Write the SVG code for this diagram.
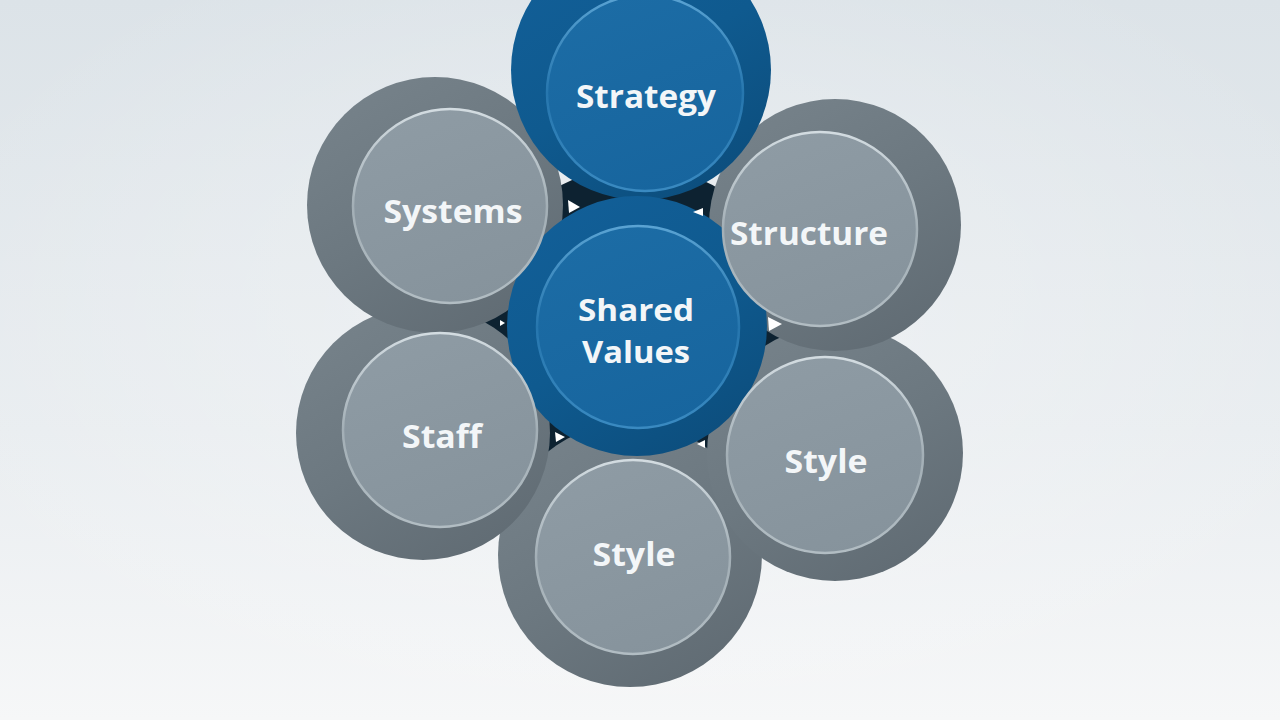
<svg xmlns="http://www.w3.org/2000/svg" width="1280" height="720" viewBox="0 0 1280 720">
  <defs>
    <linearGradient id="bg" x1="0" y1="0" x2="0" y2="1">
      <stop offset="0" stop-color="#dce3e8"/>
      <stop offset="0.6" stop-color="#e9edf0"/>
      <stop offset="1" stop-color="#f6f7f8"/>
    </linearGradient>
    <radialGradient id="bgGlow" cx="0.5" cy="0.45" r="0.6">
      <stop offset="0" stop-color="#ffffff" stop-opacity="0.35"/>
      <stop offset="1" stop-color="#ffffff" stop-opacity="0"/>
    </radialGradient>
    <linearGradient id="grayBack" x1="0.2" y1="0" x2="0.8" y2="1">
      <stop offset="0" stop-color="#76828a"/>
      <stop offset="0.5" stop-color="#6c7880"/>
      <stop offset="1" stop-color="#606b73"/>
    </linearGradient>
    <linearGradient id="grayFace" x1="0.3" y1="0" x2="0.7" y2="1">
      <stop offset="0" stop-color="#8e9ba4"/>
      <stop offset="1" stop-color="#86939c"/>
    </linearGradient>
    <linearGradient id="blueBack" x1="0.2" y1="0" x2="0.8" y2="1">
      <stop offset="0" stop-color="#125f98"/>
      <stop offset="0.5" stop-color="#0f5a8f"/>
      <stop offset="1" stop-color="#0c4d7c"/>
    </linearGradient>
    <linearGradient id="blueFace" x1="0.3" y1="0" x2="0.7" y2="1">
      <stop offset="0" stop-color="#1c6ca5"/>
      <stop offset="1" stop-color="#17659e"/>
    </linearGradient>
    <linearGradient id="rimGray" x1="0" y1="0" x2="0" y2="1">
      <stop offset="0" stop-color="#d3dce1"/>
      <stop offset="0.5" stop-color="#a3afb6"/>
      <stop offset="1" stop-color="#b2bdc3"/>
    </linearGradient>
    <linearGradient id="rimBlue" x1="0" y1="0" x2="0" y2="1">
      <stop offset="0" stop-color="#5aa3d3"/>
      <stop offset="0.5" stop-color="#2676ae"/>
      <stop offset="1" stop-color="#3a8ac1"/>
    </linearGradient>
  </defs>
  <style>
    .gback { fill: url(#grayBack); }
    .gface { fill: url(#grayFace); stroke: url(#rimGray); stroke-width: 2.5; }
    .bback { fill: url(#blueBack); }
    .bface { fill: url(#blueFace); stroke: url(#rimBlue); stroke-width: 2.5; }
    .lbl { font-family: "Open Sans", "Noto Sans", "DejaVu Sans", sans-serif; font-weight: 700; font-size: 33px; fill: #f3f6f8; text-anchor: middle; }
    .lbl2 { font-size: 30px; }
    .tri { fill: #ffffff; }
  </style>

  <rect x="0" y="0" width="1280" height="720" fill="url(#bg)"/>
  <rect x="0" y="0" width="1280" height="720" fill="url(#bgGlow)"/>

  <!-- dark core between discs -->
  <circle cx="637" cy="326" r="160" fill="#0d2231"/>

  <!-- back discs -->
  <g id="back-discs">
    <circle class="gback" cx="630" cy="555" r="132"/>
    <circle class="gback" cx="423" cy="433" r="127"/>
    <circle class="gback" cx="835" cy="453" r="128"/>
    <circle class="gback" cx="435" cy="205" r="128"/>
    <circle class="gback" cx="835" cy="225" r="126"/>
    <circle class="bback" cx="641" cy="70" r="130"/>
    <circle class="bback" cx="637" cy="326" r="130"/>
  </g>

  <!-- connectors (small arrowheads visible between discs) -->
  <g id="connectors">
    <polygon class="tri" points="568,200 580,207 569,213"/>
    <polygon class="tri" points="703,208 693,212 703,216"/>
    <polygon class="tri" points="500,320 505,323 500,326"/>
    <polygon class="tri" points="768,317 782,324 769,331"/>
    <polygon class="tri" points="555,432 565,437 556,442"/>
    <polygon class="tri" points="705,440 697,444 705,448"/>
  </g>

  <g id="node-strategy">
    <circle class="bface" cx="645" cy="93" r="98"/>
    <text class="lbl" x="646" y="108" textLength="140" lengthAdjust="spacingAndGlyphs">Strategy</text>
  </g>

  <g id="node-shared-values">
    <circle class="bface" cx="638" cy="327" r="101"/>
    <text class="lbl lbl2" x="636" y="321" textLength="116" lengthAdjust="spacingAndGlyphs">Shared</text>
    <text class="lbl lbl2" x="636" y="363" textLength="108" lengthAdjust="spacingAndGlyphs">Values</text>
  </g>

  <g id="node-systems">
    <circle class="gface" cx="450" cy="206" r="97"/>
    <text class="lbl" x="453" y="223" textLength="139" lengthAdjust="spacingAndGlyphs">Systems</text>
  </g>

  <g id="node-structure">
    <circle class="gface" cx="820" cy="229" r="97"/>
    <text class="lbl" x="809" y="245" textLength="158" lengthAdjust="spacingAndGlyphs">Structure</text>
  </g>

  <g id="node-staff">
    <circle class="gface" cx="440" cy="430" r="97"/>
    <text class="lbl" x="442" y="448" textLength="80" lengthAdjust="spacingAndGlyphs">Staff</text>
  </g>

  <g id="node-style-right">
    <circle class="gface" cx="825" cy="455" r="98"/>
    <text class="lbl" x="826" y="473" textLength="83" lengthAdjust="spacingAndGlyphs">Style</text>
  </g>

  <g id="node-style-bottom">
    <circle class="gface" cx="633" cy="557" r="97"/>
    <text class="lbl" x="634" y="566" textLength="83" lengthAdjust="spacingAndGlyphs">Style</text>
  </g>
</svg>
